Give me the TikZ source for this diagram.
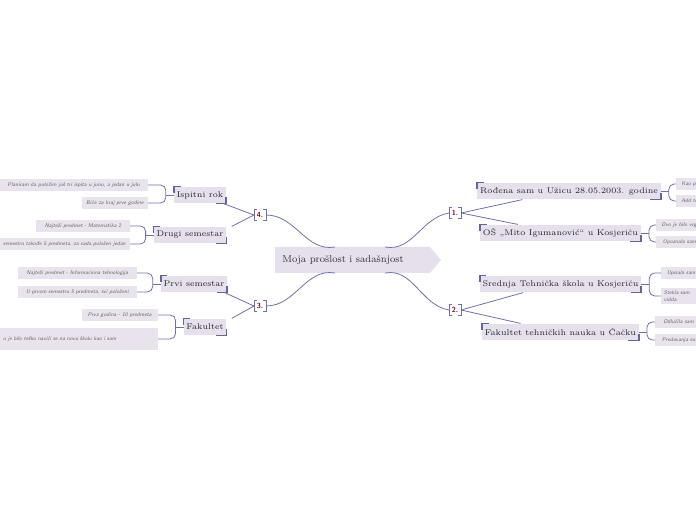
\documentclass[tikz,border=0pt]{standalone}
\begin{document}
\begin{tikzpicture}[x=0.75pt,y=-0.75pt,
  main/.style={fill=boxc,inner sep=2pt,minimum height=12.5pt,font=\fontsize{6.2}{7}\selectfont,text=black!85},
  leaf/.style={fill=leafc,inner sep=2pt,minimum height=9.5pt,font=\sffamily\itshape\fontsize{4}{5}\selectfont,text=black!60,align=left},
  badge/.style={font=\sffamily\bfseries\fontsize{5.5}{6}\selectfont,text=purple!70!black,inner sep=2pt},
  ln/.style={draw=linec,line width=0.6pt},
  corner/.style={draw=linec!90!black,line width=1.3pt}]
\definecolor{boxc}{HTML}{E6E0EC}
\definecolor{leafc}{HTML}{E9E3EE}
\definecolor{linec}{HTML}{6E72A8}
\useasboundingbox (0,0) rectangle (696,520);
\clip (0,0) rectangle (696,520);
% central
\fill[boxc] (275,247) -- (430,247) -- (441,260) -- (430,273) -- (275,273) -- cycle;
\node[font=\fontsize{7.5}{9}\selectfont,text=black!80] (c) at (343,260) {Moja prošlost i sadašnjost};
\coordinate (ctr) at (385,247); \coordinate (cbr) at (385,273);
\coordinate (ctl) at (335,247); \coordinate (cbl) at (335,273);
% badges
\node[badge] (b1) at (455,213) {1.};
\node[badge] (b2) at (455,310) {2.};
\node[badge] (b4) at (260,215) {4.};
\node[badge] (b3) at (260,306) {3.};
\foreach \b in {b1,b2,b3,b4}{
 \draw[linec,line width=0.6pt] ([xshift=2pt]\b.north west) -- (\b.north west) -- (\b.south west) -- ([xshift=2pt]\b.south west);
 \draw[linec,line width=0.6pt] ([xshift=-2pt]\b.north east) -- (\b.north east) -- (\b.south east) -- ([xshift=-2pt]\b.south east);}
\draw[ln] (ctr) to[out=-10,in=190] (b1.west);
\draw[ln] (cbr) to[out=10,in=170] (b2.west);
\draw[ln] (ctl) to[out=190,in=0] (b4.east);
\draw[ln] (cbl) to[out=170,in=0] (b3.east);
% main nodes right
\node[main,minimum width=118pt] (r1) at (569,191) {Rođena sam u Užicu 28.05.2003. godine};
\node[main,minimum width=104pt] (r2) at (560.5,233) {OŠ „Mito Igumanović“ u Kosjeriču};
\node[main,minimum width=104pt] (r3) at (560.5,284) {Srednja Tehnička škola u Kosjeriču};
\node[main,minimum width=104pt] (r4) at (560.5,332) {Fakultet tehničkih nauka u Čačku};
% main nodes left
\node[main] (l1) at (200,195) {Ispitni rok};
\node[main] (l2) at (190,235) {Drugi semestar};
\node[main] (l3) at (194,284) {Prvi semestar};
\node[main] (l4) at (205,327) {Fakultet};
\foreach \n in {r1,r2,r3,r4,l1,l2,l3,l4}{
 \draw[corner] ([yshift=-5pt]\n.north west) -- (\n.north west) -- ([xshift=5pt]\n.north west);
 \draw[corner] ([yshift=5pt]\n.south east) -- (\n.south east) -- ([xshift=-8pt]\n.south east);}
% badge to nodes
\draw[ln] (b1.east) -- ([xshift=-35pt]r1.south);
\draw[ln] (b1.east) -- ([xshift=-32pt]r2.north);
\draw[ln] (b2.east) -- ([xshift=-28pt]r3.south);
\draw[ln] (b2.east) -- ([xshift=-30pt]r4.north);
\draw[ln] (b4.west) -- ([xshift=-2pt]l1.south east);
\draw[ln] (b4.west) -- ([xshift=4pt]l2.north east);
\draw[ln] (b3.west) -- ([xshift=-2pt]l3.south east);
\draw[ln] (b3.west) -- ([xshift=4pt]l4.north east);
% leaves right
\node[leaf,anchor=west,minimum width=20pt] (r1a) at (676,184) {Kao pr};
\node[leaf,anchor=west,minimum width=20pt] (r1b) at (676,201) {Add to};
\node[leaf,anchor=west,minimum width=35pt] (r2a) at (656,225) {Ovo je bilo vrgl};
\node[leaf,anchor=west,minimum width=35pt] (r2b) at (656,242) {Upoznala sam};
\node[leaf,anchor=west,minimum width=30pt] (r3a) at (661,273) {Upisala sam};
\node[leaf,anchor=west,text width=30pt] (r3b) at (661,296) {Stekla sam\\vidda};
\node[leaf,anchor=west,minimum width=35pt] (r4a) at (655,322) {Odlučila sam};
\node[leaf,anchor=west,minimum width=35pt] (r4b) at (655,340) {Predavanja su};
% leaves left
\node[leaf,anchor=east,minimum width=111pt] (l1a) at (148,185) {Planiram da položim još tri ispita u junu, a jedan u julu};
\node[leaf,anchor=east,minimum width=49pt] (l1b) at (148,203) {Biće za kraj prve godine};
\node[leaf,anchor=east,minimum width=70pt] (l2a) at (130,226) {Najteži predmet - Matematika 2};
\node[leaf,anchor=east,minimum width=98pt] (l2b) at (130,244) {semestru takođe 5 predmeta, za sada položen jedan};
\node[leaf,anchor=east,minimum width=89pt] (l3a) at (137,273) {Najteži predmet - Informaciona tehnologija};
\node[leaf,anchor=east,minimum width=89pt] (l3b) at (137,292) {U prvom semestru 5 predmeta, svi položeni};
\node[leaf,anchor=east,minimum width=57pt] (l4a) at (158,315) {Prva godina - 10 predmeta};
\node[leaf,anchor=north east,minimum height=16pt,text width=114pt] (l4b) at (158,328) {u je bilo teško navići se na novu školu kao i sam\\};
% brackets
\foreach \n/\a/\b in {r1/r1a/r1b,r2/r2a/r2b,r3/r3a/r3b,r4/r4a/r4b}{
 \draw[ln] (\n.east) -- ++(6pt,0) coordinate (m\n);
 \draw[ln,rounded corners=4pt] (m\n) |- (\a.west);
 \draw[ln,rounded corners=4pt] (m\n) |- (\b.west);}
\foreach \n/\a/\b in {l1/l1a/l1b,l2/l2a/l2b,l3/l3a/l3b,l4/l4a/l4b}{
 \draw[ln] (\n.west) -- ++(-6pt,0) coordinate (m\n);
 \draw[ln,rounded corners=4pt] (m\n) |- (\a.east);
 \draw[ln,rounded corners=4pt] (m\n) |- (\b.east);}
\end{tikzpicture}
\end{document}
